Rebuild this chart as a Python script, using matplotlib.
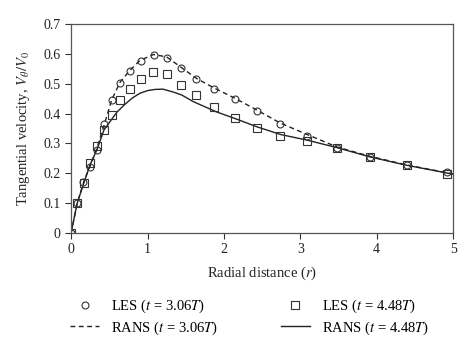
import matplotlib
matplotlib.use("Agg")
import matplotlib.pyplot as plt
from matplotlib.lines import Line2D

plt.rcParams['font.family'] = ['Liberation Serif', 'DejaVu Serif']
plt.rcParams['mathtext.fontset'] = 'stix'

# LES t=3.06T (circles)
les1_r = [0.0, 0.083, 0.16, 0.25, 0.34, 0.43, 0.53, 0.64, 0.77, 0.915, 1.08, 1.25, 1.44,
          1.64, 1.87, 2.14, 2.43, 2.74, 3.09, 3.48, 3.91, 4.39, 4.92]
les1_v = [0.0, 0.102, 0.171, 0.222, 0.278, 0.364, 0.447, 0.503, 0.543, 0.577, 0.597, 0.586, 0.552,
          0.515, 0.484, 0.450, 0.410, 0.364, 0.326, 0.286, 0.255, 0.227, 0.203]
# LES t=4.48T (squares)
les2_r = [0.0, 0.083, 0.166, 0.244, 0.34, 0.436, 0.536, 0.645, 0.776, 0.915, 1.077, 1.25, 1.434,
          1.64, 1.87, 2.14, 2.43, 2.74, 3.09, 3.48, 3.91, 4.39, 4.92]
les2_v = [0.0, 0.099, 0.169, 0.236, 0.292, 0.345, 0.395, 0.446, 0.483, 0.515, 0.541, 0.533, 0.497,
          0.461, 0.423, 0.384, 0.353, 0.326, 0.309, 0.286, 0.255, 0.227, 0.199]
# RANS t=3.06T (dashed)
rans1_r = [0.0, 0.08, 0.17, 0.25, 0.34, 0.43, 0.53, 0.64, 0.77, 0.9, 1.08, 1.25, 1.44, 1.64,
           1.87, 2.14, 2.43, 2.74, 3.09, 3.48, 3.91, 4.39, 5.0]
rans1_v = [0.0, 0.1, 0.175, 0.225, 0.285, 0.36, 0.445, 0.505, 0.545, 0.578, 0.598, 0.59, 0.555, 0.518,
           0.486, 0.452, 0.412, 0.368, 0.33, 0.288, 0.257, 0.228, 0.198]
# RANS t=4.48T (solid)
rans2_r = [0.0, 0.08, 0.17, 0.25, 0.34, 0.43, 0.5, 0.6, 0.7, 0.8, 0.9, 1.0, 1.1, 1.2, 1.34, 1.45,
           1.6, 1.9, 2.14, 2.43, 2.74, 3.09, 3.48, 3.91, 4.39, 5.0]
rans2_v = [0.0, 0.1, 0.17, 0.23, 0.28, 0.345, 0.37, 0.405, 0.43, 0.452, 0.468, 0.477, 0.481, 0.482,
           0.472, 0.462, 0.44, 0.406, 0.384, 0.356, 0.33, 0.311, 0.286, 0.255, 0.227, 0.197]

fig = plt.figure(figsize=(4.74, 3.59), dpi=100)
ax = fig.add_axes([0.150, 0.351, 0.806, 0.582])

ax.plot(rans1_r, rans1_v, color='#222222', ls=(0, (3.5, 2.5)), lw=1.0)
ax.plot(rans2_r, rans2_v, color='#222222', ls='-', lw=1.0)
ax.plot(les1_r, les1_v, ls='none', marker='o', ms=5, mfc='none', mec='#333333', mew=0.8)
ax.plot(les2_r, les2_v, ls='none', marker='s', ms=5.5, mfc='none', mec='#333333', mew=0.8)

ax.set_xlim(0, 5)
ax.set_ylim(0, 0.7)
ax.set_xticks([0, 1, 2, 3, 4, 5])
ax.set_xticklabels(['0', '1', '2', '3', '4', '5'])
ax.set_yticks([0, 0.1, 0.2, 0.3, 0.4, 0.5, 0.6, 0.7])
ax.set_yticklabels(['0', '0.1', '0.2', '0.3', '0.4', '0.5', '0.6', '0.7'])
ax.tick_params(direction='out', length=4, width=0.8, labelsize=10, colors='#333333',
               labelcolor='#222222')
for s in ax.spines.values():
    s.set_color('#555555')
    s.set_linewidth(0.9)

ax.set_xlabel('Radial distance ($r$)', fontsize=10.5, color='#222222', labelpad=6)
ax.set_ylabel(r'Tangential velocity, $V_\theta/V_0$', fontsize=10.5, color='#222222', labelpad=8)

h1 = Line2D([], [], ls='none', marker='o', ms=5, mfc='none', mec='#333333', mew=0.8)
h2 = Line2D([], [], color='#222222', ls=(0, (3.5, 2.5)), lw=1.0)
h3 = Line2D([], [], ls='none', marker='s', ms=5.5, mfc='none', mec='#333333', mew=0.8)
h4 = Line2D([], [], color='#222222', ls='-', lw=1.0)
labels = ['LES ($t$ = 3.06$T$)', 'RANS ($t$ = 3.06$T$)', 'LES ($t$ = 4.48$T$)', 'RANS ($t$ = 4.48$T$)']
fig.legend([h1, h2, h3, h4], labels, ncol=2, loc='upper left', bbox_to_anchor=(0.12, 0.208),
           frameon=False, fontsize=10.5, columnspacing=4.3, handlelength=2.0, handletextpad=0.8,
           labelspacing=0.3)

fig.savefig('out.png', dpi=100)
